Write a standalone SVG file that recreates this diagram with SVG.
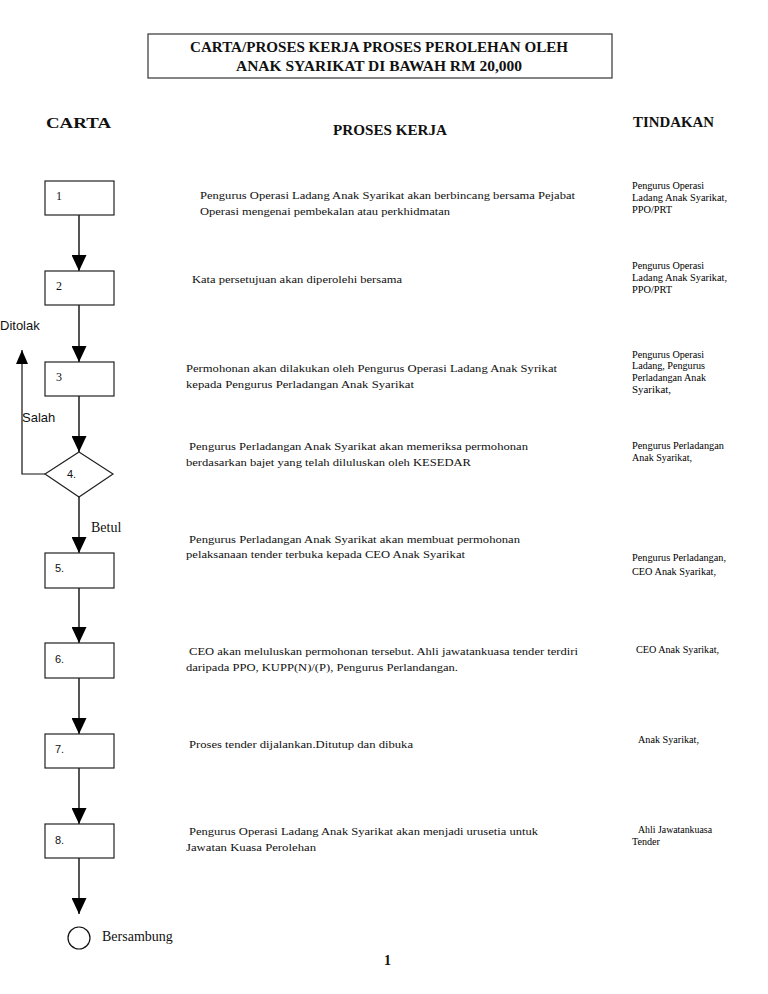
<svg xmlns="http://www.w3.org/2000/svg" width="768" height="994" viewBox="0 0 768 994">
<style>
.bg{fill:#fff}
.box{fill:#fff;stroke:#222;stroke-width:1.2}
.ln{stroke:#555;stroke-width:2;fill:none}
.ln2{stroke:#111;stroke-width:1.2;fill:none}
.hd{font-family:"Liberation Serif",serif;font-weight:bold;font-size:14px;fill:#111}
.t{font-family:"Liberation Serif",serif;font-size:11px;fill:#111}
.s{font-family:"Liberation Serif",serif;font-size:9.8px;fill:#000}
.n{font-family:"Liberation Sans",sans-serif;font-size:11px;fill:#111}
.nr{font-family:"Liberation Serif",serif;font-size:12px;fill:#111}
.lb{font-family:"Liberation Sans",sans-serif;font-size:13px;fill:#111}
.lbs{font-family:"Liberation Serif",serif;font-size:14px;fill:#111}
</style>
<defs>
<marker id="ah" markerWidth="16" markerHeight="15" refX="16" refY="7.5" orient="auto" markerUnits="userSpaceOnUse">
<path d="M0,0 L16,7.5 L0,15 Z" fill="#000"/>
</marker>
<marker id="ah2" markerWidth="14" markerHeight="12" refX="14" refY="6" orient="auto" markerUnits="userSpaceOnUse">
<path d="M0,0 L14,6 L0,12 Z" fill="#000"/>
</marker>
</defs>
<rect class="bg" x="0" y="0" width="768" height="994"/>

<g id="title">
<rect x="148" y="34" width="464" height="44" fill="#fff" stroke="#333" stroke-width="1.2"/>
<text class="hd" x="379" y="52" text-anchor="middle" textLength="378" lengthAdjust="spacingAndGlyphs">CARTA/PROSES KERJA PROSES PEROLEHAN OLEH</text>
<text class="hd" x="379" y="71" text-anchor="middle" textLength="286" lengthAdjust="spacingAndGlyphs">ANAK SYARIKAT DI BAWAH RM 20,000</text>
</g>

<g id="headers">
<text class="hd" x="46" y="128" textLength="65" lengthAdjust="spacingAndGlyphs">CARTA</text>
<text class="hd" x="333" y="135" textLength="114" lengthAdjust="spacingAndGlyphs">PROSES KERJA</text>
<text class="hd" x="633" y="127" textLength="81" lengthAdjust="spacingAndGlyphs">TINDAKAN</text>
</g>

<g id="connectors">
<line class="ln" x1="79" y1="215" x2="79" y2="271" marker-end="url(#ah)"/>
<line class="ln" x1="79" y1="305" x2="79" y2="362" marker-end="url(#ah)"/>
<line class="ln" x1="79" y1="396" x2="79" y2="452" marker-end="url(#ah)"/>
<line class="ln" x1="79" y1="497" x2="79" y2="553" marker-end="url(#ah)"/>
<line class="ln" x1="79" y1="588" x2="79" y2="643" marker-end="url(#ah)"/>
<line class="ln" x1="79" y1="678" x2="79" y2="734" marker-end="url(#ah)"/>
<line class="ln" x1="79" y1="768" x2="79" y2="824" marker-end="url(#ah)"/>
<line class="ln" x1="79" y1="858" x2="79" y2="914" marker-end="url(#ah)"/>
<polyline class="ln2" points="45,474 22,474 22,350" marker-end="url(#ah2)"/>
<text class="lb" x="0" y="330">Ditolak</text>
<text class="lb" x="22" y="422">Salah</text>
<text class="lbs" x="91" y="532">Betul</text>
</g>

<g id="n1">
<rect class="box" x="45" y="181" width="69" height="34"/>
<text class="nr" x="56" y="200">1</text>
<text class="t" x="200" y="199" textLength="375" lengthAdjust="spacingAndGlyphs">Pengurus Operasi Ladang Anak Syarikat akan berbincang bersama Pejabat</text>
<text class="t" x="200" y="215" textLength="250" lengthAdjust="spacingAndGlyphs">Operasi mengenai pembekalan atau perkhidmatan</text>
<text class="s" x="632" y="189" textLength="72" lengthAdjust="spacingAndGlyphs">Pengurus Operasi</text>
<text class="s" x="632" y="201" textLength="95" lengthAdjust="spacingAndGlyphs">Ladang Anak Syarikat,</text>
<text class="s" x="632" y="213" textLength="40" lengthAdjust="spacingAndGlyphs">PPO/PRT</text>
</g>

<g id="n2">
<rect class="box" x="45" y="271" width="69" height="34"/>
<text class="nr" x="56" y="290">2</text>
<text class="t" x="192" y="283" textLength="210" lengthAdjust="spacingAndGlyphs">Kata persetujuan akan diperolehi bersama</text>
<text class="s" x="632" y="269" textLength="72" lengthAdjust="spacingAndGlyphs">Pengurus Operasi</text>
<text class="s" x="632" y="281" textLength="95" lengthAdjust="spacingAndGlyphs">Ladang Anak Syarikat,</text>
<text class="s" x="632" y="293" textLength="40" lengthAdjust="spacingAndGlyphs">PPO/PRT</text>
</g>

<g id="n3">
<rect class="box" x="45" y="362" width="69" height="34"/>
<text class="nr" x="56" y="381">3</text>
<text class="t" x="186" y="372" textLength="371" lengthAdjust="spacingAndGlyphs">Permohonan akan dilakukan oleh Pengurus Operasi Ladang Anak Syrikat</text>
<text class="t" x="186" y="388" textLength="228" lengthAdjust="spacingAndGlyphs">kepada Pengurus Perladangan Anak Syarikat</text>
<text class="s" x="632" y="358" textLength="72" lengthAdjust="spacingAndGlyphs">Pengurus Operasi</text>
<text class="s" x="632" y="369" textLength="73" lengthAdjust="spacingAndGlyphs">Ladang, Pengurus</text>
<text class="s" x="632" y="381" textLength="74" lengthAdjust="spacingAndGlyphs">Perladangan Anak</text>
<text class="s" x="632" y="393" textLength="39" lengthAdjust="spacingAndGlyphs">Syarikat,</text>
</g>

<g id="n4">
<polygon class="box" points="79,452 113,474 79,497 45,474"/>
<text class="n" x="67" y="478">4.</text>
<text class="t" x="189" y="450" textLength="339" lengthAdjust="spacingAndGlyphs">Pengurus Perladangan Anak Syarikat akan memeriksa permohonan</text>
<text class="t" x="186" y="466" textLength="285" lengthAdjust="spacingAndGlyphs">berdasarkan bajet yang telah diluluskan oleh KESEDAR</text>
<text class="s" x="632" y="449" textLength="92" lengthAdjust="spacingAndGlyphs">Pengurus Perladangan</text>
<text class="s" x="632" y="461" textLength="60" lengthAdjust="spacingAndGlyphs">Anak Syarikat,</text>
</g>

<g id="n5">
<rect class="box" x="45" y="553" width="69" height="35"/>
<text class="n" x="55" y="572">5.</text>
<text class="t" x="189" y="543" textLength="331" lengthAdjust="spacingAndGlyphs">Pengurus Perladangan Anak Syarikat akan membuat permohonan</text>
<text class="t" x="186" y="558" textLength="279" lengthAdjust="spacingAndGlyphs">pelaksanaan tender terbuka kepada CEO Anak Syarikat</text>
<text class="s" x="632" y="561" textLength="94" lengthAdjust="spacingAndGlyphs">Pengurus Perladangan,</text>
<text class="s" x="632" y="575" textLength="84" lengthAdjust="spacingAndGlyphs">CEO Anak Syarikat,</text>
</g>

<g id="n6">
<rect class="box" x="45" y="643" width="69" height="35"/>
<text class="n" x="55" y="663">6.</text>
<text class="t" x="189" y="655" textLength="389" lengthAdjust="spacingAndGlyphs">CEO akan meluluskan permohonan tersebut. Ahli jawatankuasa tender terdiri</text>
<text class="t" x="186" y="671" textLength="272" lengthAdjust="spacingAndGlyphs">daripada PPO, KUPP(N)/(P), Pengurus Perlandangan.</text>
<text class="s" x="636" y="653" textLength="83" lengthAdjust="spacingAndGlyphs">CEO Anak Syarikat,</text>
</g>

<g id="n7">
<rect class="box" x="45" y="734" width="69" height="34"/>
<text class="n" x="55" y="753">7.</text>
<text class="t" x="189" y="748" textLength="224" lengthAdjust="spacingAndGlyphs">Proses tender dijalankan.Ditutup dan dibuka</text>
<text class="s" x="638" y="743" textLength="61" lengthAdjust="spacingAndGlyphs">Anak Syarikat,</text>
</g>

<g id="n8">
<rect class="box" x="45" y="824" width="69" height="34"/>
<text class="n" x="55" y="844">8.</text>
<text class="t" x="189" y="835" textLength="349" lengthAdjust="spacingAndGlyphs">Pengurus Operasi Ladang Anak Syarikat akan menjadi urusetia untuk</text>
<text class="t" x="186" y="851" textLength="130" lengthAdjust="spacingAndGlyphs">Jawatan Kuasa Perolehan</text>
<text class="s" x="638" y="833" textLength="74" lengthAdjust="spacingAndGlyphs">Ahli Jawatankuasa</text>
<text class="s" x="632" y="845" textLength="28" lengthAdjust="spacingAndGlyphs">Tender</text>
</g>

<g id="end">
<circle cx="79" cy="938" r="11" fill="#fff" stroke="#111" stroke-width="1.2"/>
<text class="lbs" x="102" y="941">Bersambung</text>
</g>

<text class="hd" x="384" y="965">1</text>
</svg>
